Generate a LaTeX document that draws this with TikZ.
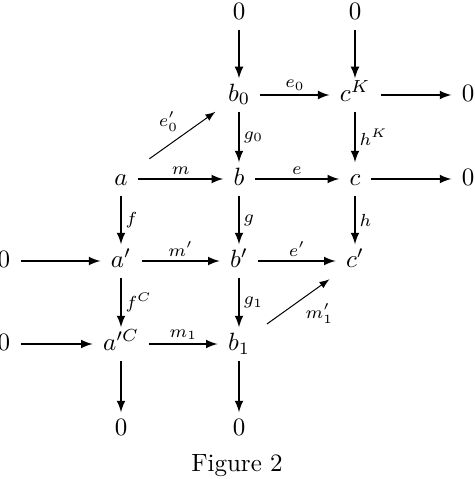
\documentclass[tikz,border=0pt]{standalone}
\usetikzlibrary{calc}
\begin{document}
\begin{tikzpicture}[x=0.4pt,y=-0.4pt,
  obj/.style={text height=6pt,text depth=1pt,inner xsep=4pt,inner ysep=3pt},
  map/.style={->,>=latex,semithick},
  lab/.style={font=\scriptsize,inner sep=1.5pt}]
\useasboundingbox (0,0) rectangle (474,479);
\def\xL{4};
\def\xA{121};
\def\xB{239};
\def\xC{355};
\def\xR{468};
\def\yT{13};
\def\yK{95};
\def\yM{179};
\def\yP{261};
\def\yQ{344};
\def\yD{429};
% objects
\node[obj] (zb) at (\xB,\yT) {$0$};
\node[obj] (zc) at (\xC,\yT) {$0$};
\node[obj] (b0) at (\xB,\yK) {$b_0$};
\node[obj] (cK) at (\xC,\yK) {$c^K$};
\node[obj] (zk) at (\xR,\yK) {$0$};
\node[obj] (a) at (\xA,\yM) {$a$};
\node[obj] (b) at (\xB,\yM) {$b$};
\node[obj] (c) at (\xC,\yM) {$c$};
\node[obj] (zm) at (\xR,\yM) {$0$};
\node[obj] (zp) at (\xL,\yP) {$0$};
\node[obj] (a1) at (\xA,\yP) {$a'$};
\node[obj] (b1p) at (\xB,\yP) {$b'$};
\node[obj] (c1) at (\xC,\yP) {$c'$};
\node[obj] (zq) at (\xL,\yQ) {$0$};
\node[obj] (aC) at (\xA,\yQ) {$a'^C$};
\node[obj] (b1) at (\xB,\yQ) {$b_1$};
\node[obj] (za) at (\xA,\yD) {$0$};
\node[obj] (zd) at (\xB,\yD) {$0$};
% maps
\draw[map] (zb) -- (b0);
\draw[map] (zc) -- (cK);
\draw[map] (b0) -- (cK) node[lab,midway,above]{$e_0$};
\draw[map] (cK) -- (zk);
\draw[map] (b0) -- (b) node[lab,midway,right]{$g_0$};
\draw[map] (cK) -- (c) node[lab,midway,right]{$h^K$};
\draw[map,thin] ($(a)!0.24!(b0)$) -- ($(a)!0.8!(b0)$) node[lab,midway,above left]{$e'_0$};
\draw[map] (a) -- (b) node[lab,midway,above]{$m$};
\draw[map] (b) -- (c) node[lab,midway,above]{$e$};
\draw[map] (c) -- (zm);
\draw[map] (a) -- (a1) node[lab,midway,right]{$f$};
\draw[map] (b) -- (b1p) node[lab,midway,right]{$g$};
\draw[map] (c) -- (c1) node[lab,midway,right]{$h$};
\draw[map] (zp) -- (a1);
\draw[map] (a1) -- (b1p) node[lab,midway,above]{$m'$};
\draw[map] (b1p) -- (c1) node[lab,midway,above]{$e'$};
\draw[map] (a1) -- (aC) node[lab,midway,right]{$f^C$};
\draw[map] (b1p) -- (b1) node[lab,midway,right]{$g_1$};
\draw[map,thin] ($(b1)!0.24!(c1)$) -- ($(b1)!0.78!(c1)$) node[lab,pos=0.55,below right]{$m'_1$};
\draw[map] (zq) -- (aC);
\draw[map] (aC) -- (b1) node[lab,midway,above]{$m_1$};
\draw[map] (aC) -- (za);
\draw[map] (b1) -- (zd);
\node (cap) at (237,466) {Figure 2};
\end{tikzpicture}
\end{document}
